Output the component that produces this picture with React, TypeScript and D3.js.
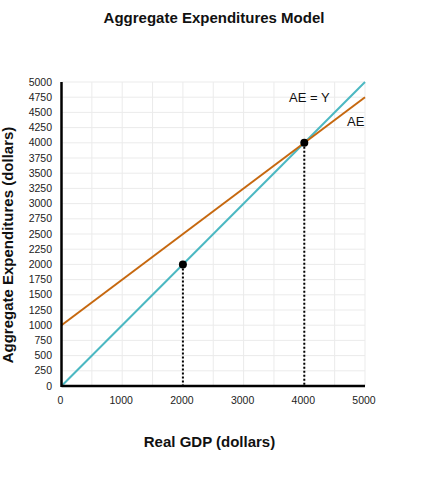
import React from "react";
import * as d3 from "d3";

const W = 436;
const H = 491;

const xTicks = [0, 1000, 2000, 3000, 4000, 5000];
const yTicks = [0, 250, 500, 750, 1000, 1250, 1500, 1750, 2000, 2250, 2500, 2750, 3000, 3250, 3500, 3750, 4000, 4250, 4500, 4750, 5000];
const xGrid = [0, 500, 1000, 1500, 2000, 2500, 3000, 3500, 4000, 4500, 5000];

const aeX = [0, 5000];
const aeY = [1000, 4750];
const lineX = [0, 5000];
const lineY = [0, 5000];
const pointsX = [2000, 4000];
const pointsY = [2000, 4000];

export default function App() {
  const x = d3.scaleLinear().domain([0, 5000]).range([61.5, 365]);
  const y = d3.scaleLinear().domain([0, 5000]).range([386, 82]);
  const line = d3
    .line<[number, number]>()
    .x((d) => x(d[0]))
    .y((d) => y(d[1]));
  const ae = aeX.map((v, i) => [v, aeY[i]] as [number, number]);
  const ident = lineX.map((v, i) => [v, lineY[i]] as [number, number]);
  const font = "Liberation Sans, Arial, sans-serif";

  return (
    <svg
      width={W}
      height={H}
      style={{ position: "absolute", left: 0, top: 0, background: "#fff" }}
      fontFamily={font}
    >
      <rect width={W} height={H} fill="#fff" />
      {xGrid.map((v) => (
        <line key={"gx" + v} x1={x(v)} x2={x(v)} y1={y(0)} y2={y(5000)} stroke="#ebebeb" strokeWidth={1} />
      ))}
      {yTicks.map((v) => (
        <line key={"gy" + v} x1={x(0)} x2={x(5000)} y1={y(v)} y2={y(v)} stroke="#ebebeb" strokeWidth={1} />
      ))}
      {yTicks.map((v) => (
        <text key={"ty" + v} x={52} y={y(v)} dy="0.35em" textAnchor="end" fontSize={10.5} fill="#222">
          {v}
        </text>
      ))}
      {xTicks.map((v) => (
        <text key={"tx" + v} x={x(v) - 1} y={404} textAnchor="middle" fontSize={10.5} fill="#222">
          {v}
        </text>
      ))}
      {pointsX.map((v, i) => (
        <line
          key={"dl" + v}
          x1={x(v)}
          x2={x(v)}
          y1={y(pointsY[i])}
          y2={y(0)}
          stroke="#000"
          strokeWidth={2}
          strokeDasharray="2,2"
        />
      ))}
      <path d={line(ident) || ""} fill="none" stroke="#4bb8c2" strokeWidth={2} />
      <path d={line(ae) || ""} fill="none" stroke="#c6680f" strokeWidth={2} />
      <line x1={x(0)} x2={x(0)} y1={y(5000)} y2={y(0) + 1} stroke="#000" strokeWidth={2.5} />
      <line x1={x(0)} x2={x(5000)} y1={y(0)} y2={y(0)} stroke="#000" strokeWidth={2.5} />
      {pointsX.map((v, i) => (
        <circle key={"pt" + v} cx={x(v)} cy={y(pointsY[i])} r={4} fill="#000" />
      ))}
      <text x={289} y={102} fontSize={13} fill="#111">AE = Y</text>
      <text x={347} y={126} fontSize={13} fill="#111">AE</text>
      <text x={214} y={23} textAnchor="middle" fontSize={15} fontWeight="bold" fill="#111">
        Aggregate Expenditures Model
      </text>
      <text x={209.5} y={447} textAnchor="middle" fontSize={15} fontWeight="bold" fill="#111">
        Real GDP (dollars)
      </text>
      <text
        transform={`translate(13,245) rotate(-90)`}
        textAnchor="middle"
        fontSize={15}
        fontWeight="bold"
        fill="#111"
      >
        Aggregate Expenditures (dollars)
      </text>
    </svg>
  );
}
